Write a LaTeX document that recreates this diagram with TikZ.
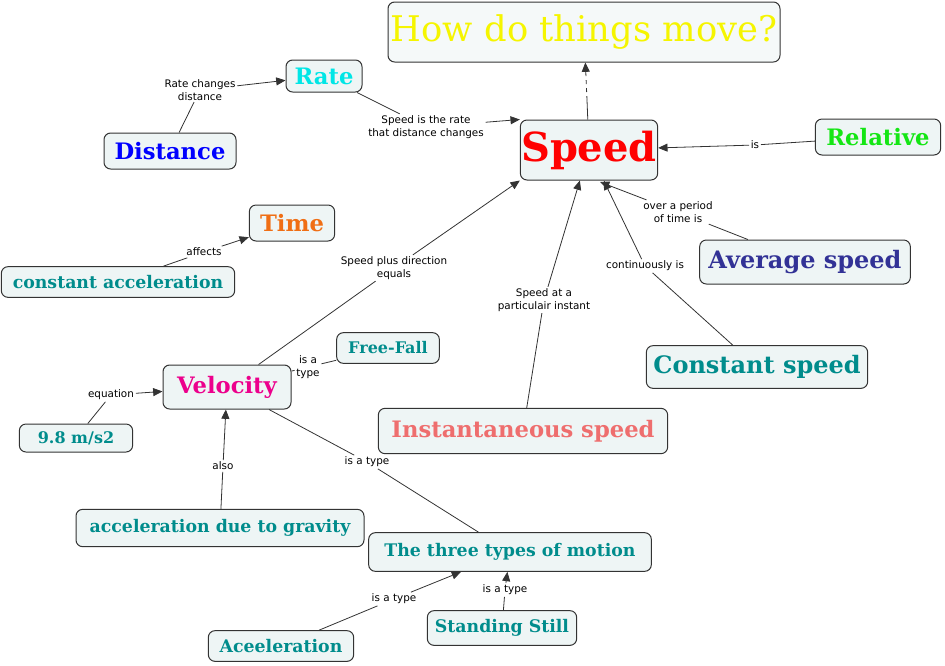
\documentclass[tikz,border=0pt]{standalone}
\usepackage{fontspec}
\setmainfont{DejaVu Serif}
\newfontfamily\linkfont{DejaVu Sans}
\usetikzlibrary{arrows.meta}
\definecolor{boxfill}{RGB}{238,245,245}
\definecolor{teal}{RGB}{0,140,140}
\definecolor{avg}{RGB}{50,50,150}
\definecolor{salmon}{RGB}{238,110,110}
\definecolor{title}{RGB}{245,245,0}
\definecolor{green}{RGB}{20,230,20}
\definecolor{orange}{RGB}{240,110,20}
\definecolor{ratecol}{RGB}{0,230,230}
\tikzset{every picture/.style={line width=0.75pt}}
\tikzset{
  concept/.style={draw=black!80, fill=boxfill, rounded corners=5pt, font=\bfseries, inner sep=0pt},
  linklabel/.style={fill=white, font=\linkfont\fontsize{7.8}{9.4}\selectfont, align=center, inner sep=1pt},
  link/.style={draw=black!80, line width=0.6pt},
  arrowlink/.style={link, -{Triangle[length=7pt,width=6pt]}}
}
\begin{document}
\begin{tikzpicture}[x=0.75pt,y=0.75pt,yscale=-1,xscale=1]
\useasboundingbox (0,0) rectangle (945,665);

% concepts
\node[concept, font=\fontsize{26.5}{30}\selectfont, text=title, minimum width=294pt, minimum height=45pt, fill=boxfill!60] (move) at (584,32) {How do things move?};
\node[concept, font=\bfseries\fontsize{30}{34}\selectfont, text=red, minimum width=103pt, minimum height=45pt] (speed) at (589,150) {Speed};
\node[concept, font=\bfseries\fontsize{17}{20}\selectfont, text=ratecol, minimum width=57pt, minimum height=24pt] (rate) at (324,76) {Rate};
\node[concept, font=\bfseries\fontsize{17}{20}\selectfont, text=blue, minimum width=99pt, minimum height=27pt] (distance) at (170,151) {Distance};
\node[concept, font=\bfseries\fontsize{17}{20}\selectfont, text=green, minimum width=94pt, minimum height=27pt] (relative) at (878,137) {Relative};
\node[concept, font=\bfseries\fontsize{17}{20}\selectfont, text=orange, minimum width=64pt, minimum height=27pt] (time) at (292,223) {Time};
\node[concept, font=\bfseries\fontsize{13}{16}\selectfont, text=teal, minimum width=175pt, minimum height=23pt] (constacc) at (118,282) {constant acceleration};
\node[concept, font=\bfseries\fontsize{18}{21}\selectfont, text=avg, minimum width=158pt, minimum height=33pt] (average) at (805,262) {Average speed};
\node[concept, font=\bfseries\fontsize{17}{20}\selectfont, text=magenta, minimum width=96pt, minimum height=33pt] (velocity) at (227,387) {Velocity};
\node[concept, font=\bfseries\fontsize{12}{15}\selectfont, text=teal, minimum width=77pt, minimum height=23pt] (freefall) at (388,348) {Free-Fall};
\node[concept, font=\bfseries\fontsize{18}{21}\selectfont, text=teal, minimum width=166pt, minimum height=32pt] (constspeed) at (757,367) {Constant speed};
\node[concept, font=\bfseries\fontsize{17}{20}\selectfont, text=salmon, minimum width=217pt, minimum height=34pt] (instant) at (523,431) {Instantaneous speed};
\node[concept, font=\bfseries\fontsize{12}{15}\selectfont, text=teal, minimum width=85pt, minimum height=21pt] (gravnum) at (76,438) {9.8 m/s2};
\node[concept, font=\bfseries\fontsize{13}{16}\selectfont, text=teal, minimum width=216pt, minimum height=28pt] (gravity) at (220,528) {acceleration due to gravity};
\node[concept, font=\bfseries\fontsize{13}{16}\selectfont, text=teal, minimum width=212pt, minimum height=29pt] (threetypes) at (510,552) {The three types of motion};
\node[concept, font=\bfseries\fontsize{13}{16}\selectfont, text=teal, minimum width=109pt, minimum height=23pt] (aceel) at (281,646) {Aceeleration};
\node[concept, font=\bfseries\fontsize{13}{16}\selectfont, text=teal, minimum width=112pt, minimum height=26pt] (still) at (502,628) {Standing Still};

% link labels
\node[linklabel] (l1) at (200,90) {Rate changes\\distance};
\node[linklabel] (l2) at (426,127) {Speed is the rate\\that distance changes};
\node[linklabel] (l3) at (755,145) {is};
\node[linklabel] (l4) at (678,212) {over a period\\of time is};
\node[linklabel] (l5) at (645,266) {continuously is};
\node[linklabel] (l6) at (544,300) {Speed at a\\particulair instant};
\node[linklabel] (l7) at (394,268) {Speed plus direction\\equals};
\node[linklabel] (l8) at (204,252) {affects};
\node[linklabel] (l9) at (111,395) {equation};
\node[linklabel] (l10) at (308,367) {is a\\type};
\node[linklabel] (l11) at (223,466) {also};
\node[linklabel] (l12) at (367,462) {is a type};
\node[linklabel] (l13) at (394,599) {is a type};
\node[linklabel] (l14) at (505,590) {is a type};
\coordinate (l0) at (587,100);
\coordinate (avgend) at (600,182);

% connectors
\draw[link] (distance) -- (l1); \draw[arrowlink] (l1) -- (rate);
\draw[link] (rate) -- (l2); \draw[arrowlink] (l2) -- (speed.north west);
\draw[link] (speed) -- (l0); \draw[arrowlink, dashed] (l0) -- (move);
\draw[link] (relative) -- (l3); \draw[arrowlink] (l3) -- (speed);
\draw[link] (average) -- (l4); \draw[arrowlink] (l4) -- (avgend);
\draw[link] (constspeed) -- (l5); \draw[arrowlink] (l5) -- (speed);
\draw[link] (instant) -- (l6); \draw[arrowlink] (l6) -- (speed);
\draw[link] (velocity) -- (l7); \draw[arrowlink] (l7) -- (speed.south west);
\draw[link] (constacc) -- (l8); \draw[arrowlink] (l8) -- (time);
\draw[link] (gravnum) -- (l9); \draw[arrowlink] (l9) -- (velocity);
\draw[link] (freefall) -- (l10); \draw[link] (l10) -- (velocity);
\draw[link] (gravity) -- (l11); \draw[arrowlink] (l11) -- (velocity);
\draw[link] (threetypes) -- (l12); \draw[link] (l12) -- (velocity);
\draw[link] (aceel) -- (l13); \draw[arrowlink] (l13) -- (threetypes);
\draw[link] (still) -- (l14); \draw[arrowlink] (l14) -- (threetypes);
\end{tikzpicture}
\end{document}
